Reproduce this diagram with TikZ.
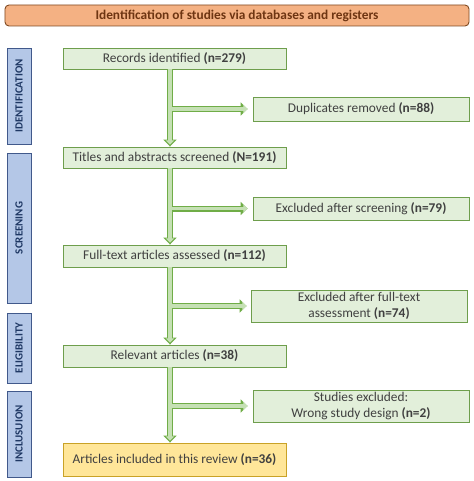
\documentclass[tikz,border=0pt]{standalone}
\usepackage{fontspec}
\setmainfont{Carlito}
\usetikzlibrary{arrows.meta}
\definecolor{boxfill}{HTML}{E2EFDA}
\definecolor{boxline}{HTML}{6E9E4C}
\definecolor{arrowfill}{HTML}{C5E0B4}
\definecolor{arrowline}{HTML}{70AD47}
\definecolor{headfill}{HTML}{F4B183}
\definecolor{headline}{HTML}{7F4A22}
\definecolor{headtext}{HTML}{6E3512}
\definecolor{sidefill}{HTML}{B4C7E7}
\definecolor{sideline}{HTML}{41598B}
\definecolor{sidetext}{HTML}{1F3864}
\definecolor{incfill}{HTML}{FFE699}
\definecolor{incline}{HTML}{C9A227}
\definecolor{maintext}{HTML}{404040}
\tikzset{
  stagebox/.style={draw=boxline, fill=boxfill, line width=0.9bp, text=maintext,
    font=\fontsize{13.4}{15.5}\selectfont, inner sep=1bp, align=center},
  mainbox/.style={stagebox, minimum width=223bp, minimum height=21bp},
  sidebox/.style={stagebox, minimum width=216bp},
  phase/.style={draw=sideline, fill=sidefill, line width=0.9bp, text=sidetext,
    font=\fontsize{11}{12}\selectfont\bfseries, minimum width=24bp, rotate=90, inner sep=0pt},
  flowout/.style={line width=6bp, draw=arrowline, -{Triangle[length=7bp,width=13bp,fill=arrowline]}},
  flowin/.style={line width=3.4bp, draw=arrowfill, shorten >=1.9bp, -{Triangle[length=4.2bp,width=8.2bp,fill=arrowfill]}},
}
\begin{document}
\begin{tikzpicture}[x=1bp,y=-1bp]
\useasboundingbox (0,0) rectangle (474,481);
% header
\node[draw=headline, fill=headfill, line width=0.9bp, rounded corners=4bp,
  minimum width=464bp, minimum height=21bp, text=headtext,
  font=\fontsize{13.4}{15}\selectfont\bfseries] (head) at (237,15.5)
  {Identification of studies via databases and registers};
% phases
\node[phase, minimum height=24bp, minimum width=96bp] (pid) at (19,96) {IDENTIFICATION};
\node[phase, minimum height=24bp, minimum width=150bp] (psc) at (19,228) {SCREENING};
\node[phase, minimum height=24bp, minimum width=70bp] (pel) at (19,348) {ELIGIBILITY};
\node[phase, minimum height=24bp, minimum width=86bp] (pin) at (19,434) {INCLUSUION};
% main boxes
\node[mainbox] (rec) at (174.5,58.5) {Records identified \textbf{(n=279)}};
\node[mainbox] (tit) at (174.5,157.5) {Titles and abstracts screened \textbf{(N=191)}};
\node[mainbox, minimum height=22bp] (ful) at (174.5,256) {Full-text articles assessed \textbf{(n=112)}};
\node[mainbox, minimum height=22bp] (rel) at (174.5,356) {Relevant articles \textbf{(n=38)}};
\node[mainbox, minimum height=33bp, fill=incfill, draw=incline] (inc) at (174.5,459.5) {Articles included in this review \textbf{(n=36)}};
% side boxes
\node[sidebox, minimum height=24bp] (dup) at (361,109) {Duplicates removed \textbf{(n=88)}};
\node[sidebox, minimum height=23bp] (exs) at (361,208.5) {Excluded after screening \textbf{(n=79)}};
\node[sidebox, minimum height=32bp] (exf) at (359,306) {Excluded after full-text\\assessment \textbf{(n=74)}};
\node[sidebox, minimum height=32bp] (stu) at (361,406) {Studies excluded:\\Wrong study design \textbf{(n=2)}};
% spine
\coordinate (spine) at (170,0);
\foreach \s in {flowout,flowin}{
  \draw[\s] (rec.south -| spine) -- (tit.north -| spine);
  \draw[\s] (tit.south -| spine) -- (ful.north -| spine);
  \draw[\s] (ful.south -| spine) -- (rel.north -| spine);
  \draw[\s] (rel.south -| spine) -- (inc.north -| spine);
  \draw[\s, shorten >=5bp] (spine |- dup.west) -- (dup.west);
  \draw[\s, shorten >=5bp] (spine |- exs.west) -- (exs.west);
  \draw[\s, shorten >=4bp] (spine |- exf.west) -- (exf.west);
  \draw[\s, shorten >=5bp] (spine |- stu.west) -- (stu.west);
}
\end{tikzpicture}
\end{document}
